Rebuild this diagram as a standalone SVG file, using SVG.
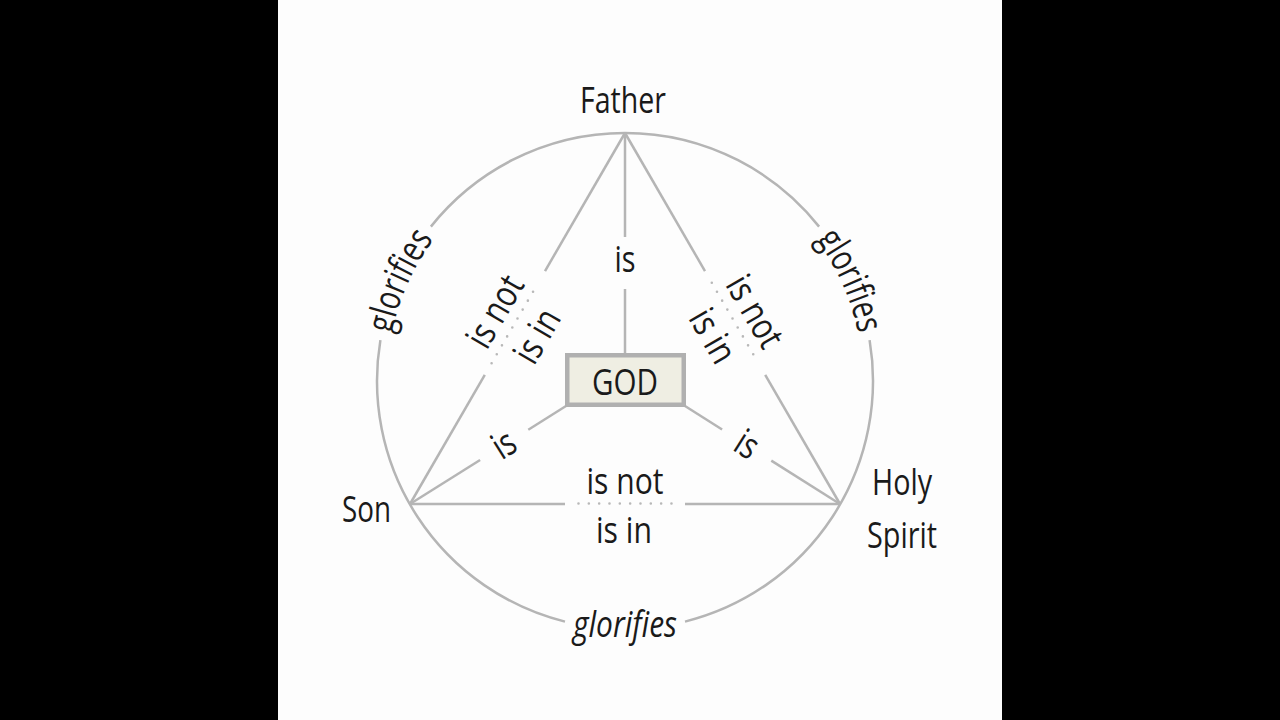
<svg xmlns="http://www.w3.org/2000/svg" width="1280" height="720" viewBox="0 0 1280 720">
<style>
.ln{fill:none;stroke:#b5b5b5;stroke-width:2.5}
.dot{fill:none;stroke:#b8b8b8;stroke-width:2.6;stroke-linecap:round;stroke-dasharray:0 10.33}
.t{font-family:"Open Sans","Liberation Sans",sans-serif;font-size:37px;fill:#1a1a1a}
.m{text-anchor:middle}
</style>
<defs>
<path id="arcL" d="M 411.1 485.3 A 238 238 0 0 1 559.4 152.2"/>
<path id="arcR" d="M 690.6 152.2 A 238 238 0 0 1 838.9 485.3"/>
</defs>
<rect x="0" y="0" width="1280" height="720" fill="#000"/>
<rect x="278" y="0" width="724" height="720" fill="#fdfdfd"/>

<g id="connectors">
  <!-- circle with gaps -->
  <path class="ln" d="M 565 621.6 A 248 248 0 0 1 380.4 340.1"/>
  <path class="ln" d="M 430.9 226.6 A 248 248 0 0 1 819.1 226.6"/>
  <path class="ln" d="M 869.6 340.1 A 248 248 0 0 1 685 621.6"/>
  <!-- Father - Son -->
  <line class="ln" x1="410" y1="504" x2="484.8" y2="374.9"/>
  <line class="ln" x1="545" y1="271.1" x2="625" y2="133"/>
  <line class="dot" x1="491.6" y1="363.2" x2="538.2" y2="282.8"/>
  <!-- Father - Holy Spirit -->
  <line class="ln" x1="625" y1="133" x2="705" y2="271.1"/>
  <line class="ln" x1="765.2" y1="374.9" x2="840" y2="504"/>
  <line class="dot" x1="711.8" y1="282.8" x2="758.4" y2="363.2"/>
  <!-- Son - Holy Spirit -->
  <line class="ln" x1="410" y1="504" x2="565" y2="504"/>
  <line class="ln" x1="685" y1="504" x2="840" y2="504"/>
  <line class="dot" x1="578.5" y1="503.5" x2="671.5" y2="503.5"/>
  <!-- spokes to GOD -->
  <line class="ln" x1="625" y1="133" x2="625" y2="237"/>
  <line class="ln" x1="625" y1="289" x2="625" y2="354"/>
  <line class="ln" x1="566" y1="406" x2="528.3" y2="429.7"/>
  <line class="ln" x1="480.1" y1="460" x2="410" y2="504"/>
  <line class="ln" x1="685" y1="406" x2="722.1" y2="429.5"/>
  <line class="ln" x1="771.3" y1="460.6" x2="840" y2="504"/>
</g>

<g id="father"><text class="t m" x="623" y="113" textLength="86" lengthAdjust="spacingAndGlyphs">Father</text></g>
<g id="son"><text class="t" x="342" y="522" textLength="49" lengthAdjust="spacingAndGlyphs">Son</text></g>
<g id="holy-spirit">
  <text class="t" x="872" y="495" textLength="60" lengthAdjust="spacingAndGlyphs">Holy</text>
  <text class="t" x="867" y="548" textLength="70" lengthAdjust="spacingAndGlyphs">Spirit</text>
</g>
<g id="god">
  <rect x="567.25" y="355.25" width="116.5" height="49.5" fill="#efeee3" stroke="#b0b0b0" stroke-width="4.5"/>
  <text class="t m" x="625" y="395" textLength="66" lengthAdjust="spacingAndGlyphs">GOD</text>
</g>

<g id="labels">
  <text class="t m" x="625" y="272" textLength="21" lengthAdjust="spacingAndGlyphs">is</text>
  <text class="t m" transform="translate(510.6 455) rotate(-32.1)" textLength="21" lengthAdjust="spacingAndGlyphs">is</text>
  <text class="t m" transform="translate(740.3 455.1) rotate(32.3)" textLength="21" lengthAdjust="spacingAndGlyphs">is</text>
  <text class="t m" transform="translate(506 317.8) rotate(-59.9)" textLength="77" lengthAdjust="spacingAndGlyphs">is not</text>
  <text class="t m" transform="translate(548.1 342.3) rotate(-59.9)" textLength="56" lengthAdjust="spacingAndGlyphs">is in</text>
  <text class="t m" transform="translate(744 317.8) rotate(59.9)" textLength="77" lengthAdjust="spacingAndGlyphs">is not</text>
  <text class="t m" transform="translate(701.9 342.3) rotate(59.9)" textLength="56" lengthAdjust="spacingAndGlyphs">is in</text>
  <text class="t m" x="625" y="494" textLength="77" lengthAdjust="spacingAndGlyphs">is not</text>
  <text class="t m" x="624" y="542.5" textLength="56" lengthAdjust="spacingAndGlyphs">is in</text>
  <text class="t m"><textPath href="#arcL" startOffset="50%" textLength="104" lengthAdjust="spacingAndGlyphs">glorifies</textPath></text>
  <text class="t m"><textPath href="#arcR" startOffset="50%" textLength="104" lengthAdjust="spacingAndGlyphs">glorifies</textPath></text>
  <text class="t m" x="625" y="637" font-style="italic" textLength="104" lengthAdjust="spacingAndGlyphs">glorifies</text>
</g>
</svg>
